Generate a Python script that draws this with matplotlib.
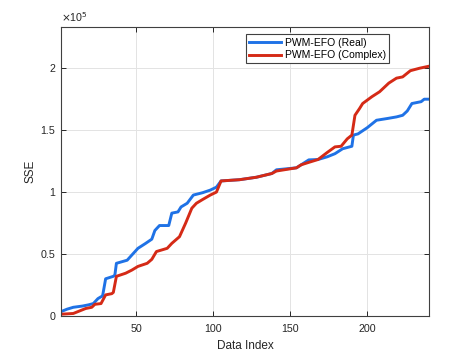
import matplotlib
matplotlib.use("Agg")
import matplotlib.pyplot as plt
from matplotlib.ticker import FuncFormatter

plt.rcParams['font.family'] = ['Liberation Sans', 'DejaVu Sans']

# SSE values in units of 1e5 at breakpoints
idx_real = [1, 5, 9, 15, 19, 22, 25, 27, 28, 30, 35, 36, 37, 44, 48, 51, 56, 60,
            62, 65, 71, 73, 77, 79, 83, 87, 93, 98, 102, 105, 117, 128, 138, 141,
            154, 157, 162, 168, 174, 179, 184, 190, 191, 194, 200, 206, 213, 219,
            223, 226, 229, 235, 237, 240]
sse_real = [0.035, 0.055, 0.07, 0.08, 0.09, 0.10, 0.14, 0.155, 0.16, 0.30, 0.32,
            0.33, 0.425, 0.45, 0.505, 0.546, 0.586, 0.62, 0.69, 0.73, 0.73, 0.83,
            0.84, 0.88, 0.91, 0.976, 0.995, 1.016, 1.04, 1.09, 1.10, 1.12, 1.15,
            1.18, 1.196, 1.22, 1.26, 1.263, 1.285, 1.31, 1.35, 1.37, 1.46, 1.47,
            1.52, 1.58, 1.594, 1.607, 1.62, 1.655, 1.715, 1.73, 1.75, 1.75]

idx_cplx = [1, 9, 13, 17, 21, 23, 27, 30, 34, 35, 37, 43, 47, 51, 57, 60, 63, 70,
            73, 78, 82, 86, 89, 93, 98, 102, 105, 117, 128, 138, 141, 154, 157,
            162, 168, 174, 179, 183, 187, 190, 192, 195, 197, 203, 208, 214, 219,
            223, 228, 234, 240]
sse_cplx = [0.014, 0.02, 0.04, 0.06, 0.07, 0.094, 0.10, 0.17, 0.18, 0.19, 0.32,
            0.345, 0.37, 0.40, 0.425, 0.457, 0.52, 0.546, 0.586, 0.64, 0.75, 0.87,
            0.91, 0.94, 0.976, 1.00, 1.09, 1.10, 1.12, 1.15, 1.17, 1.196, 1.22,
            1.24, 1.263, 1.32, 1.365, 1.37, 1.43, 1.46, 1.62, 1.675, 1.715, 1.77,
            1.81, 1.88, 1.92, 1.93, 1.98, 2.00, 2.016]

xticks = [50, 100, 150, 200]
yticks = [0, 0.5, 1, 1.5, 2]

fig = plt.figure(figsize=(4.74, 3.55), dpi=100)
ax = fig.add_axes([0.1287, 0.11, 0.776, 0.814])

ax.plot(idx_real, sse_real, color='#1f72e6', lw=2.1, label='PWM-EFO (Real)')
ax.plot(idx_cplx, sse_cplx, color='#d52a16', lw=2.1, label='PWM-EFO (Complex)')

ax.set_xlim(1, 240)
ax.set_ylim(0, 2.333)
ax.set_xticks(xticks)
ax.set_yticks(yticks)
ax.yaxis.set_major_formatter(FuncFormatter(lambda v, p: '%g' % v))
ax.grid(True, color='#e3e3e3', lw=0.7)
ax.set_axisbelow(True)
ax.tick_params(direction='in', length=3.5, width=0.7, labelsize=7.7,
               top=True, right=True, colors='#262626', pad=4)
ax.tick_params(axis='x', pad=6)
for s in ax.spines.values():
    s.set_color('#404040')
    s.set_linewidth(0.8)

ax.set_xlabel('Data Index', fontsize=8.5, color='#262626', labelpad=4)
ax.set_ylabel('SSE', fontsize=8.5, color='#262626', labelpad=3)
ax.text(0.0, 1.012, r'$\times$10$^5$', transform=ax.transAxes, fontsize=7.7,
        color='#262626', ha='left', va='bottom')

leg = ax.legend(loc='upper right', bbox_to_anchor=(0.9, 0.985), fontsize=7.5,
                fancybox=False, framealpha=1, edgecolor='#404040',
                handlelength=3.0, borderpad=0.3, labelspacing=0.25,
                handletextpad=0.4, borderaxespad=0.3)
leg.get_frame().set_linewidth(0.8)

fig.savefig('out.png', dpi=100)
